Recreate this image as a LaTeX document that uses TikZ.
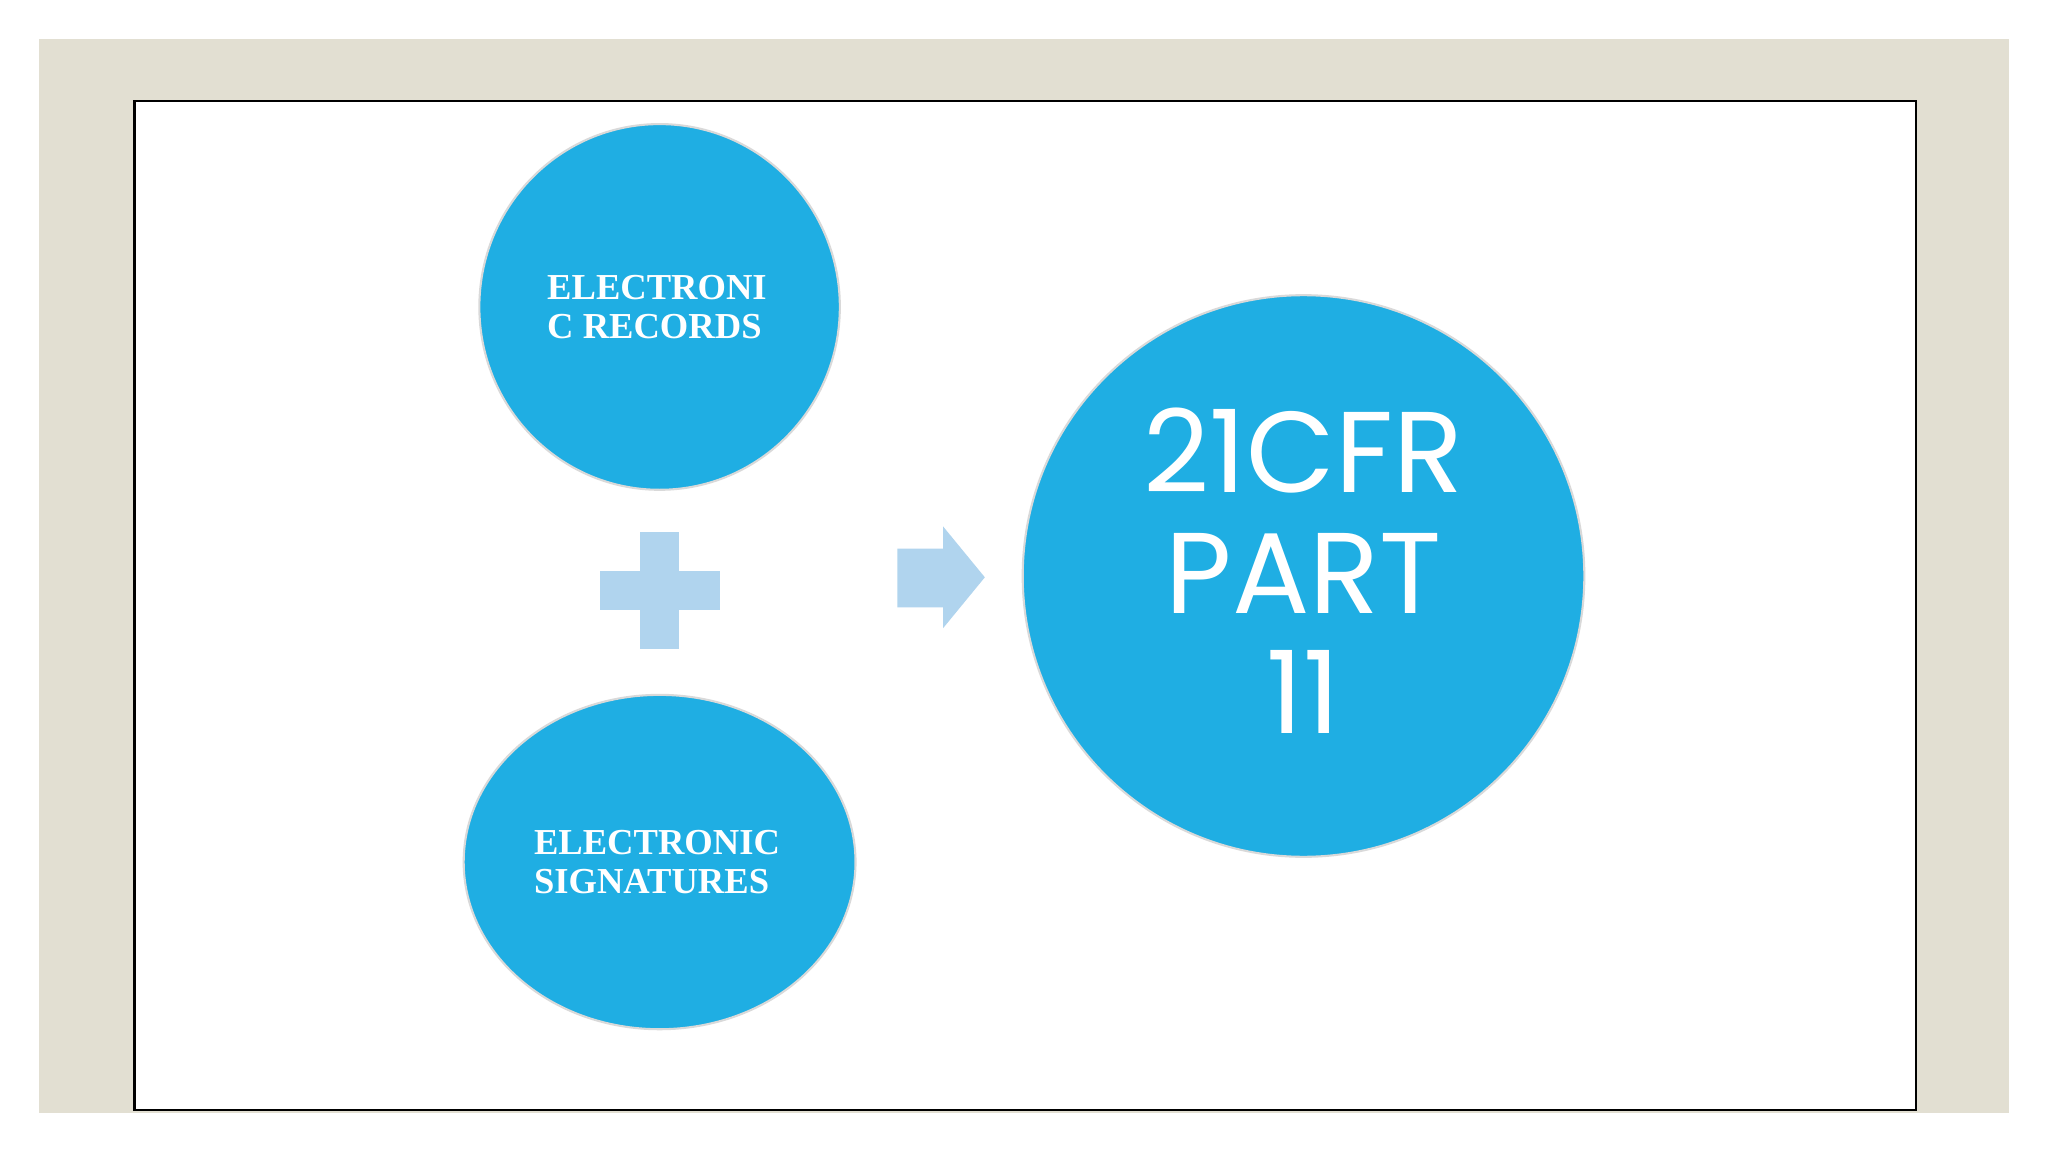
\documentclass[tikz,border=0pt]{standalone}
\usepackage{fontspec}
\setmainfont{Liberation Serif}
\newfontfamily\geo{Poppins}
\definecolor{beige}{HTML}{E2DFD2}
\definecolor{cblue}{HTML}{1FAEE3}
\definecolor{lblue}{HTML}{B0D4EE}
\begin{document}
\begin{tikzpicture}[x=0.5pt,y=-0.5pt,
  bubble/.style={fill=cblue,draw=black!15,line width=0.8pt},
  small/.style={text=white,font=\bfseries\fontsize{14}{15}\selectfont,align=left},
  big/.style={text=white,font=\geo\fontsize{44}{46}\selectfont,align=center}]
\useasboundingbox (0,0) rectangle (1568,882);
\fill[white] (0,0) rectangle (1568,882);
\fill[beige] (30,30) rectangle (1538,852);
\draw[fill=white,line width=0.8pt] (103,77) rectangle (1467,850);
\draw[bubble] (505,235) ellipse [x radius=138,y radius=140];
\draw[bubble] (505,660) ellipse [x radius=150,y radius=128];
\draw[bubble] (998,441) ellipse [x radius=215,y radius=215];
\node[small] (rec) at (503,235) {ELECTRONI\\C RECORDS};
\node[small] (sig) at (503,660) {ELECTRONIC\\SIGNATURES};
\node[big] (cfr) at (998,437) {21CFR\\PART\\11};
\fill[lblue] (490,407) rectangle (520,497);
\fill[lblue] (459,437) rectangle (551,467);
\fill[lblue] (687,420) -- (722,420) -- (722,403) -- (754,442) -- (722,481) -- (722,465) -- (687,465) -- cycle;
\end{tikzpicture}
\end{document}
